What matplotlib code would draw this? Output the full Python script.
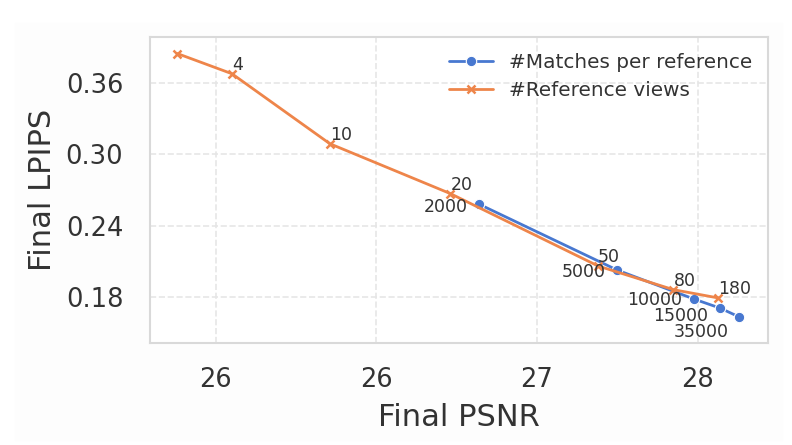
import matplotlib
matplotlib.use("Agg")
import matplotlib.pyplot as plt
import seaborn as sns
from matplotlib.patches import Rectangle
from matplotlib.ticker import FormatStrFormatter, FixedLocator

# number of matches per reference
matches = ["2000", "5000", "10000", "15000", "35000"]
matches_psnr = [26.82, 27.25, 27.49, 27.57, 27.63]
matches_lpips = [0.258, 0.2025, 0.178, 0.1705, 0.163]

# number of reference views (first point is unlabeled)
views = ["", "4", "10", "20", "50", "80", "180"]
views_psnr = [25.88, 26.05, 26.355, 26.73, 27.19, 27.425, 27.565]
views_lpips = [0.385, 0.368, 0.309, 0.267, 0.206, 0.186, 0.179]

sns.set_theme(style="whitegrid", rc={"grid.linestyle": "--"})
plt.rcParams["font.family"] = ["DejaVu Sans"]
pal = sns.color_palette("muted")
txt = "#333333"

fig = plt.figure(figsize=(7.92, 4.45), dpi=100, facecolor="white")
# faint off-white panel behind the plot
fig.patches.append(Rectangle((15 / 792, 5 / 445), 767 / 792, 417 / 445,
                             transform=fig.transFigure, color="#fdfdfd",
                             zorder=-10))
ax = fig.add_axes([0.189, 0.229, 0.781, 0.688])
ax.set_zorder(1)

ax.plot(matches_psnr, matches_lpips, color=pal[0], lw=2, marker="o", ms=7.5,
        mec="white", mew=0.8, label="#Matches per reference")
ax.plot(views_psnr, views_lpips, color=pal[1], lw=2, marker="x", ms=6,
        mew=1.8, label="#Reference views")

# label offsets (points) for the match counts
m_off = [(-8.5, -2), (-8.5, -1.5), (-8.5, -0.7), (-8.5, -5.5), (-8, -10.5)]
for lab, x, y, off in zip(matches, matches_psnr, matches_lpips, m_off):
    ax.annotate(lab, (x, y), xytext=off, textcoords="offset points",
                ha="right", va="center", fontsize=12.5, color=txt)
for lab, x, y in zip(views, views_psnr, views_lpips):
    if lab:
        ax.annotate(lab, (x, y), xytext=(0, 0), textcoords="offset points",
                    ha="left", va="bottom", fontsize=12.5, color=txt)

ax.set_xlim(25.794, 27.72)
ax.set_ylim(0.141, 0.399)
ax.xaxis.set_major_locator(FixedLocator([26.0, 26.5, 27.0, 27.5]))
ax.xaxis.set_major_formatter(FormatStrFormatter("%.0f"))
ax.yaxis.set_major_locator(FixedLocator([0.18, 0.24, 0.30, 0.36]))
ax.yaxis.set_major_formatter(FormatStrFormatter("%.2f"))
ax.tick_params(axis="x", labelsize=18.5, colors=txt, pad=11)
ax.tick_params(axis="y", labelsize=18.5, colors=txt, pad=13)
ax.set_xlabel("Final PSNR", fontsize=22, color=txt, labelpad=7.5)
ax.set_ylabel("Final LPIPS", fontsize=22, color=txt, labelpad=6)
ax.grid(True, color="#e6e6e6", lw=1.2, ls="--")
for s in ax.spines.values():
    s.set_color("#d9d9d9")
    s.set_linewidth(1.5)

leg = ax.legend(loc="upper right", frameon=False, fontsize=14.4,
                handlelength=2.2, borderaxespad=0.4, labelspacing=0.45)
for t in leg.get_texts():
    t.set_color(txt)

fig.savefig("out.png", dpi=100, facecolor=fig.get_facecolor())
